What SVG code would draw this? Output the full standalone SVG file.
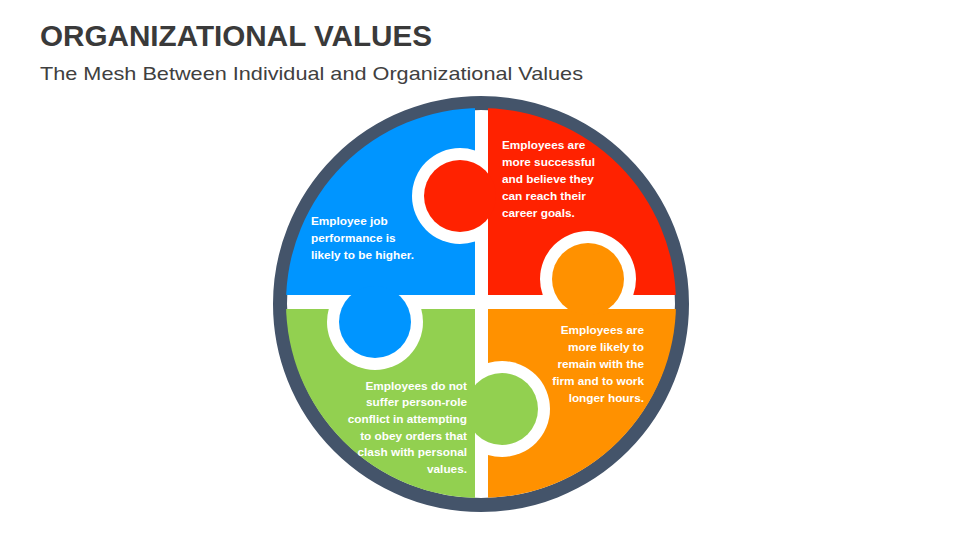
<svg xmlns="http://www.w3.org/2000/svg" width="960" height="540" viewBox="0 0 960 540">
<style>
.t{font-family:"Liberation Sans",Arial,sans-serif;fill:#fff;font-size:11.8px;font-weight:bold}
.r{text-anchor:end}
</style>
<defs>
<clipPath id="cc"><circle cx="481" cy="303" r="195"/></clipPath>
<clipPath id="qb"><rect x="0" y="0" width="475" height="295"/></clipPath>
<clipPath id="qr"><rect x="488" y="0" width="472" height="295"/></clipPath>
<clipPath id="qg"><rect x="0" y="309" width="475" height="231"/></clipPath>
<clipPath id="qo"><rect x="488" y="309" width="472" height="231"/></clipPath>
</defs>
<rect width="960" height="540" fill="#fff"/>
<text x="40" y="46" font-family="Liberation Sans,Arial,sans-serif" font-weight="bold" font-size="29" fill="#3a3a3a" textLength="392" lengthAdjust="spacingAndGlyphs">ORGANIZATIONAL VALUES</text>
<text x="40" y="80" font-family="Liberation Sans,Arial,sans-serif" font-size="19" fill="#404040" textLength="543" lengthAdjust="spacingAndGlyphs">The Mesh Between Individual and Organizational Values</text>
<circle cx="481" cy="304" r="201" fill="#fff" stroke="#44546a" stroke-width="14"/>
<g clip-path="url(#cc)">
<g id="blue"><rect x="270" y="90" width="205" height="205" fill="#0095ff"/></g>
<g id="red"><rect x="488" y="90" width="210" height="205" fill="#ff2200"/></g>
<g id="green"><rect x="270" y="309" width="205" height="210" fill="#92d050"/></g>
<g id="orange"><rect x="488" y="309" width="210" height="210" fill="#ff9100"/></g>
<circle cx="460" cy="196" r="48" fill="#fff" clip-path="url(#qb)"/>
<circle cx="460" cy="196" r="36" fill="#ff2200"/><rect x="460" y="176" width="30" height="40" fill="#ff2200"/>
<circle cx="588" cy="279" r="48" fill="#fff" clip-path="url(#qr)"/>
<circle cx="588" cy="279" r="36" fill="#ff9100"/><rect x="568" y="279" width="40" height="31" fill="#ff9100"/>
<circle cx="375" cy="322" r="48" fill="#fff" clip-path="url(#qg)"/>
<circle cx="375" cy="322" r="36" fill="#0095ff"/><rect x="355" y="294" width="40" height="28" fill="#0095ff"/>
<circle cx="502" cy="409" r="48" fill="#fff" clip-path="url(#qo)"/>
<circle cx="502" cy="409" r="36" fill="#92d050"/><rect x="474" y="389" width="28" height="40" fill="#92d050"/>
</g>
<g id="blue-text" class="t"><text x="311" y="225">Employee job</text><text x="311" y="242">performance is</text><text x="311" y="259">likely to be higher.</text></g>
<g id="red-text" class="t"><text x="502" y="149">Employees are</text><text x="502" y="166">more successful</text><text x="502" y="183">and believe they</text><text x="502" y="200">can reach their</text><text x="502" y="217">career goals.</text></g>
<g id="orange-text" class="t r"><text x="644" y="334">Employees are</text><text x="644" y="351">more likely to</text><text x="644" y="368">remain with the</text><text x="644" y="385">firm and to work</text><text x="644" y="402">longer hours.</text></g>
<g id="green-text" class="t r"><text x="467" y="390">Employees do not</text><text x="467" y="406">suffer person-role</text><text x="467" y="423">conflict in attempting</text><text x="467" y="440">to obey orders that</text><text x="467" y="456">clash with personal</text><text x="467" y="473">values.</text></g>
<g id="connectors"/>
</svg>
